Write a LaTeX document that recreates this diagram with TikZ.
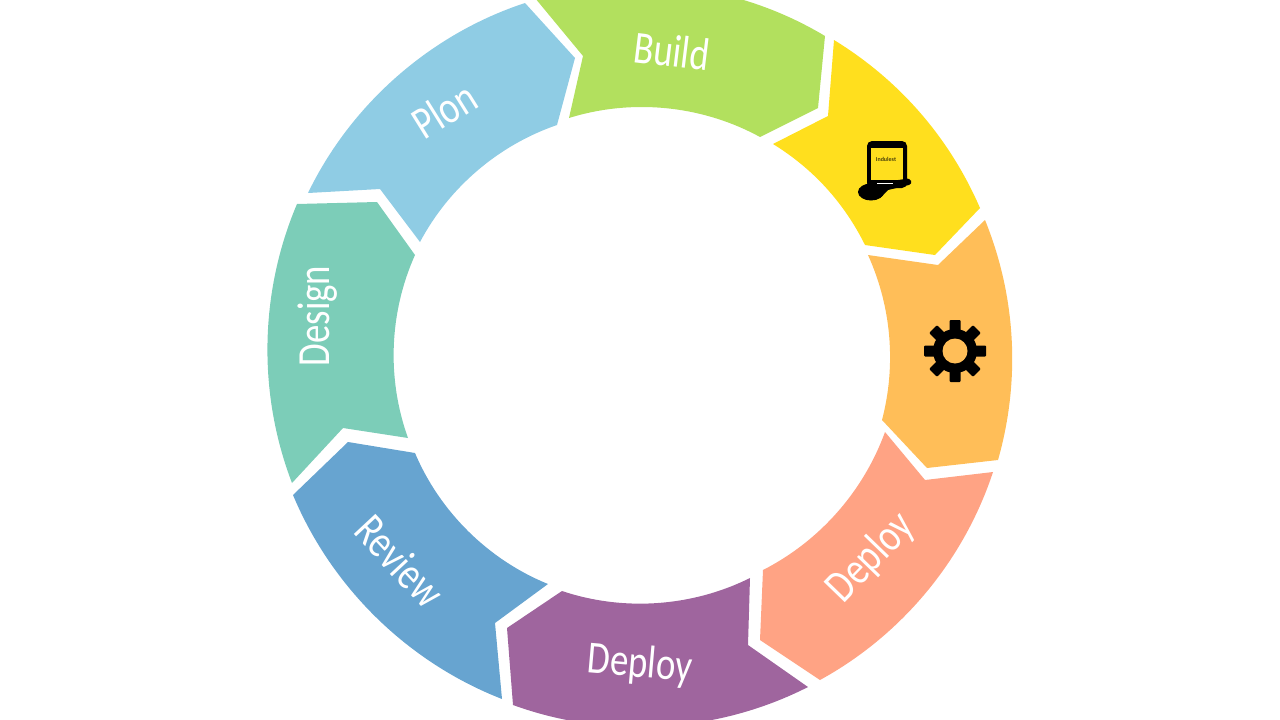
\documentclass[tikz,border=0pt]{standalone}
\usepackage{fontspec}
\setmainfont{Carlito}
\usepackage{tikz}
\tikzset{segment/.style={draw=none,looseness=0.88},%
	seglabel/.style={text=white,font=\fontsize{46}{46}\selectfont,xscale=0.8,transform shape,inner sep=0pt},%
	icon/.style={fill=black,draw=none}}
\definecolor{buildgreen}{HTML}{B2E05E}
\definecolor{codeyellow}{HTML}{FFDF1E}
\definecolor{testorange}{HTML}{FFBE58}
\definecolor{deploysalmon}{HTML}{FFA384}
\definecolor{deploypurple}{HTML}{9F659E}
\definecolor{reviewblue}{HTML}{67A4D0}
\definecolor{designteal}{HTML}{7CCDB8}
\definecolor{planblue}{HTML}{8FCCE4}
\begin{document}
\begin{tikzpicture}[x=1pt,y=-1pt]
\useasboundingbox (0,0) rectangle (1280,720);
\begin{scope}
\clip (0,0) rectangle (1280,720);
% ring of segments, clockwise from the top
\fill[segment,buildgreen] (535,-2) to[bend left=23.5] (825,36) -- (818,108) -- (760,137) to[bend right=23] (569,118) -- (583,56) -- cycle;
\fill[segment,codeyellow] (834,40) to[bend left=17.5] (980,208) -- (935,255) -- (865,245) to[bend right=16] (773,144) -- (828,116) -- cycle;
\fill[segment,testorange] (985,220) to[bend left=19] (998,460) -- (927,468) -- (882,420) to[bend right=19.5] (868,255) -- (938,265) -- cycle;
\fill[segment,deploysalmon] (993,472) to[bend left=21.5] (820,680) -- (760,640) -- (763,570) to[bend right=21.5] (885,432) -- (925,480) -- cycle;
\fill[segment,deploypurple] (808,687) to[bend left=23.5] (513,705) -- (507,628) -- (562,591) to[bend right=22.5] (750,578) -- (748,645) -- cycle;
\fill[segment,reviewblue] (502,699) to[bend left=23] (293,495) -- (348,442) -- (415,453) to[bend right=22.5] (548,584) -- (495,623) -- cycle;
\fill[segment,designteal] (292,483) to[bend left=22] (297,204) -- (377,202) -- (415,255) to[bend right=22] (408,438) -- (343,428) -- cycle;
\fill[segment,planblue] (308,193) to[bend left=23] (525,3) -- (575,58) -- (557,125) to[bend right=21.5] (420,242) -- (380,189) -- cycle;
\end{scope}
% labels
\node[rotate=-7,seglabel] (build) at (672,51) {Build};
\node[rotate=32,seglabel] (plan) at (444,110) {Plon};
\node[rotate=90,seglabel] (design) at (318,316) {Design};
\node[rotate=-47,seglabel] (review) at (400,561) {Review};
\node[rotate=-5,seglabel] (deploya) at (640,665) {Deploy};
\node[rotate=46,seglabel] (deployb) at (871,558) {Deploy};
% tablet
\fill[icon,rounded corners=5pt] (867,141) rectangle (907,188);
\fill[codeyellow] (871,148) rectangle (903,180);
\node[font=\fontsize{6}{6}\selectfont\bfseries,text=black!70!codeyellow,inner sep=0pt] (tablettext) at (886,159) {Indulest};
\fill[icon] (871,192) ellipse (13 and 8.5);
\fill[icon] (872,184) -- (905,179) .. controls (912,177) and (913,184) .. (909,185) -- (888,190) -- (880,198) -- cycle;
\draw[white,line width=0.8pt] (877,183) -- (893,183);
% gear
\fill[icon] (955,351) circle (22);
\foreach \ang in {0,45,...,315}
	\fill[icon,rounded corners=1pt,rotate around={\ang:(955,351)}] (949.5,320) rectangle (960.5,340);
\fill[testorange] (955,351) circle (12.5);
\end{tikzpicture}
\end{document}
